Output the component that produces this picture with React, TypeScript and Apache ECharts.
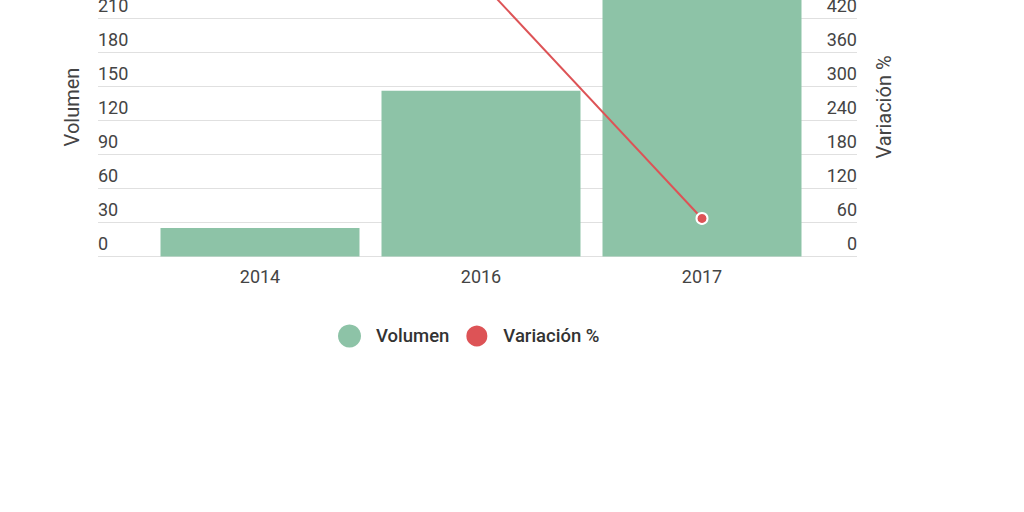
import React, { useEffect, useRef } from "react";
import * as echarts from "echarts";

const years = ["2014", "2016", "2017"];
const volumen = [25, 146, 244];
const variacion: (number | null)[] = [null, 484, 67];
const leftTicks = { min: 0, max: 270, interval: 30 };
const rightTicks = { min: 0, max: 540, interval: 60 };
const seriesNames = ["Volumen", "Variación %"];

const FONT = "Roboto, 'Noto Sans', sans-serif";
const TEXT = "#444444";
const GREEN = "#8dc3a7";
const RED = "#dd5356";

// the chart is taller than the page and shifted up, so its top is cut off
const SHIFT = 100;
const H = 512 + SHIFT;

export default function App() {
  const ref = useRef<HTMLDivElement>(null);
  useEffect(() => {
    if (!ref.current) return;
    const chart = echarts.init(ref.current, undefined, { renderer: "svg" });
    const gridTop = SHIFT - 50;
    const gridBottom = H - (256.5 + SHIFT);
    chart.setOption({
      animation: false,
      textStyle: { fontFamily: FONT },
      grid: [
        { left: 98, right: 167, top: gridTop, bottom: gridBottom, containLabel: false },
        { left: 149.5, right: 211.5, top: gridTop, bottom: gridBottom, containLabel: false },
      ],
      legend: {
        data: seriesNames,
        left: 338,
        top: 323.5 + SHIFT,
        padding: 0,
        icon: "circle",
        itemWidth: 23,
        itemHeight: 23,
        itemGap: 15,
        textStyle: { fontFamily: FONT, fontSize: 18.5, fontWeight: 500, color: "#333333", padding: [0, 0, 0, 10] },
      },
      xAxis: [
        { type: "value", gridIndex: 0, show: false, min: 0, max: 1 },
        {
          type: "category",
          gridIndex: 1,
          data: years,
          axisLine: { show: false },
          axisTick: { show: false },
          axisLabel: { fontSize: 18, color: TEXT, margin: 11, fontFamily: FONT },
        },
      ],
      yAxis: [
        {
          type: "value",
          gridIndex: 0,
          position: "left",
          ...leftTicks,
          axisLine: { show: false },
          axisTick: { show: false },
          splitLine: { show: true, lineStyle: { color: "#e0e0e0", width: 1 } },
          axisLabel: {
            inside: true,
            margin: 0,
            align: "left",
            verticalAlign: "bottom",
            padding: [0, 0, 4, 0],
            fontSize: 18,
            color: TEXT,
            fontFamily: FONT,
          },
        },
        {
          type: "value",
          gridIndex: 0,
          position: "right",
          ...rightTicks,
          axisLine: { show: false },
          axisTick: { show: false },
          splitLine: { show: false },
          axisLabel: {
            inside: true,
            margin: 0,
            align: "right",
            verticalAlign: "bottom",
            padding: [0, 0, 4, 0],
            fontSize: 18,
            color: TEXT,
            fontFamily: FONT,
          },
        },
        { type: "value", gridIndex: 1, show: false, ...leftTicks, splitLine: { show: false } },
        { type: "value", gridIndex: 1, show: false, ...rightTicks, splitLine: { show: false }, position: "right" },
      ],
      series: [
        {
          name: seriesNames[0],
          type: "bar",
          xAxisIndex: 1,
          yAxisIndex: 2,
          data: volumen,
          barWidth: 199,
          itemStyle: { color: GREEN },
        },
        {
          name: seriesNames[1],
          type: "line",
          xAxisIndex: 1,
          yAxisIndex: 3,
          data: variacion,
          symbol: "circle",
          symbolSize: 11,
          showSymbol: true,
          lineStyle: { color: RED, width: 2 },
          itemStyle: { color: RED, borderColor: "#ffffff", borderWidth: 2 },
        },
      ],
      graphic: [
        {
          type: "text",
          x: 72,
          y: 107 + SHIFT,
          rotation: Math.PI / 2,
          style: {
            text: seriesNames[0],
            fontSize: 20,
            fontFamily: FONT,
            fill: TEXT,
            align: "center",
            verticalAlign: "middle",
          },
        },
        {
          type: "text",
          x: 884,
          y: 107 + SHIFT,
          rotation: Math.PI / 2,
          style: {
            text: seriesNames[1],
            fontSize: 20,
            fontFamily: FONT,
            fill: TEXT,
            align: "center",
            verticalAlign: "middle",
          },
        },
      ],
    });
    return () => chart.dispose();
  }, []);
  return (
    <div
      ref={ref}
      style={{ position: "fixed", left: 0, top: -SHIFT, width: 1024, height: H, background: "#ffffff" }}
    />
  );
}
